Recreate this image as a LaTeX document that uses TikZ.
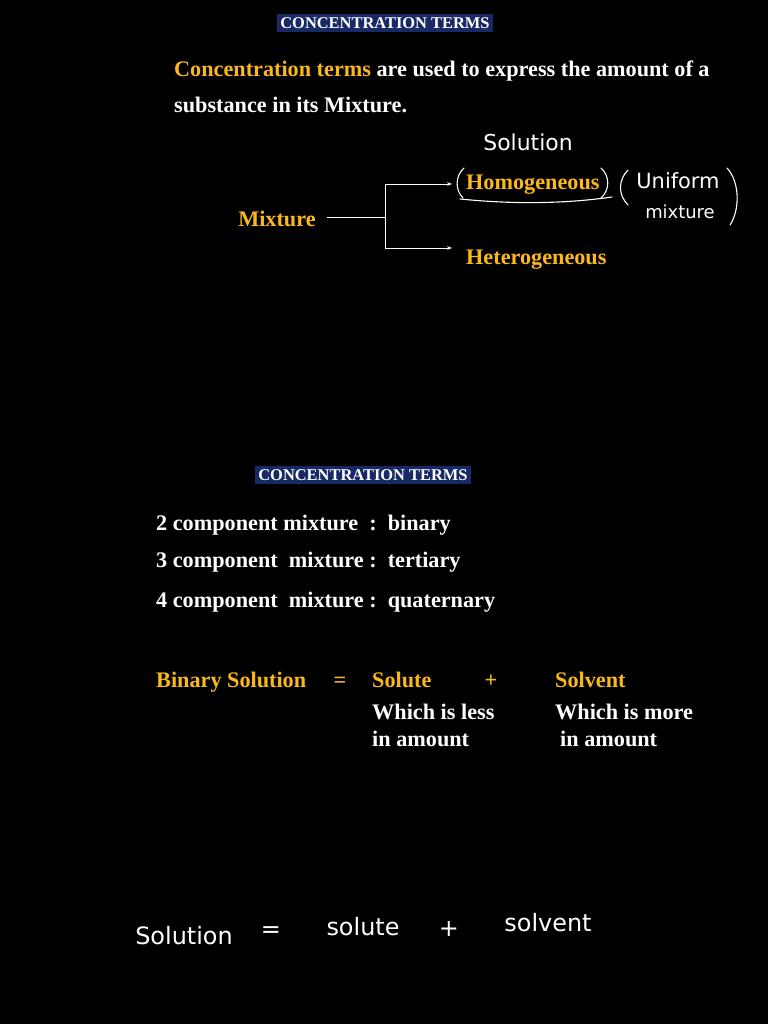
\documentclass[tikz,border=0pt]{standalone}
\usepackage{fontspec}
\setmainfont{Liberation Serif}
\newfontfamily\handfont{DejaVu Sans}
\usetikzlibrary{arrows.meta,positioning}
\definecolor{titlebg}{rgb}{0.10,0.16,0.40}
\definecolor{amber}{rgb}{0.98,0.72,0.10}
\tikzset{
  txt/.style={text=white,font=\bfseries\fontsize{22.3}{25}\selectfont,anchor=west,inner sep=0pt,text height=1.45ex,text depth=0.45ex,yshift=-4bp},
  key/.style={txt,text=amber},
  titlebox/.style={fill=titlebg,text=white,font=\bfseries\fontsize{16.5}{19}\selectfont,inner xsep=3bp,inner ysep=3bp},
  hand/.style={text=white,font=\handfont\fontsize{24}{27}\selectfont,inner sep=0pt},
  link/.style={draw=white,line width=0.8bp},
  pen/.style={draw=white,line width=1.1bp,line cap=round}
}
\begin{document}
\begin{tikzpicture}[x=1bp,y=-1bp]
\fill[black] (0,0) rectangle (768,1024);
\useasboundingbox (0,0) rectangle (768,1024);
%% first slide
\node (title1) at (385,23) [titlebox] {CONCENTRATION TERMS};
\node (def1) at (174,70) [txt] {\textcolor{amber}{Concentration terms} are used to express the amount of a};
\node (def2) at (174,106) [txt] {substance in its Mixture.};
\node (mix) at (277,220) [key,anchor=center] {Mixture};
\node (homo) at (466,183) [key] {Homogeneous};
\node (hetero) at (466,258) [key] {Heterogeneous};
\node (sol) at (528,142) [hand,font=\handfont\fontsize{22}{25}\selectfont] {Solution};
\node (unif) at (678,181) [hand,font=\handfont\fontsize{21}{24}\selectfont] {Uniform};
\node (mixt) at (680,212) [hand,font=\handfont\fontsize{18}{20}\selectfont] {mixture};
\coordinate (fork) at (385,217);
\draw [link] (327,217) -- (fork);
\draw [link,-{Stealth[length=5bp]}] (fork) |- (452,184);
\draw [link,-{Stealth[length=5bp]}] (fork) |- (452,248);
% hand marks round Homogeneous
\draw [pen] (464,168) .. controls (455,176) and (455,190) .. (463,198);
\draw [pen] (601,168) .. controls (610,176) and (610,190) .. (601,198);
\draw [pen] (460,199) .. controls (520,205) and (570,203) .. (612,197);
\draw [pen] (628,170) .. controls (618,180) and (618,195) .. (628,205);
\draw [pen] (727,168) .. controls (740,182) and (740,210) .. (730,225);
%% second slide
\node (title2) at (363,475) [titlebox] {CONCENTRATION TERMS};
\node (bin) at (156,524) [txt] {2 component mixture\ \ :\ \ binary};
\node (ter) at (156,561) [txt] {3 component\ \ mixture :\ \ tertiary};
\node (qua) at (156,601) [txt] {4 component\ \ mixture :\ \ quaternary};
\node (bsol) at (156,681) [key] {Binary Solution};
\node (eq) at (340,681) [key,anchor=center] {=};
\node (solute) at (372,681) [key] {Solute};
\node (plus) at (491,681) [key,anchor=center] {+};
\node (solvent) at (555,681) [key] {Solvent};
\node (less1) at (372,713) [txt] {Which is less};
\node (less2) at (372,740) [txt] {in amount};
\node (more1) at (555,713) [txt] {Which is more};
\node (more2) at (560,740) [txt] {in amount};
%% handwritten equation
\node (hsol) at (184,936) [hand] {Solution};
\node (heq) at (271,932) [hand] {=};
\node (hsolute) at (363,927) [hand] {solute};
\node (hplus) at (449,929) [hand] {+};
\node (hsolvent) at (548,923) [hand] {solvent};
\end{tikzpicture}
\end{document}
